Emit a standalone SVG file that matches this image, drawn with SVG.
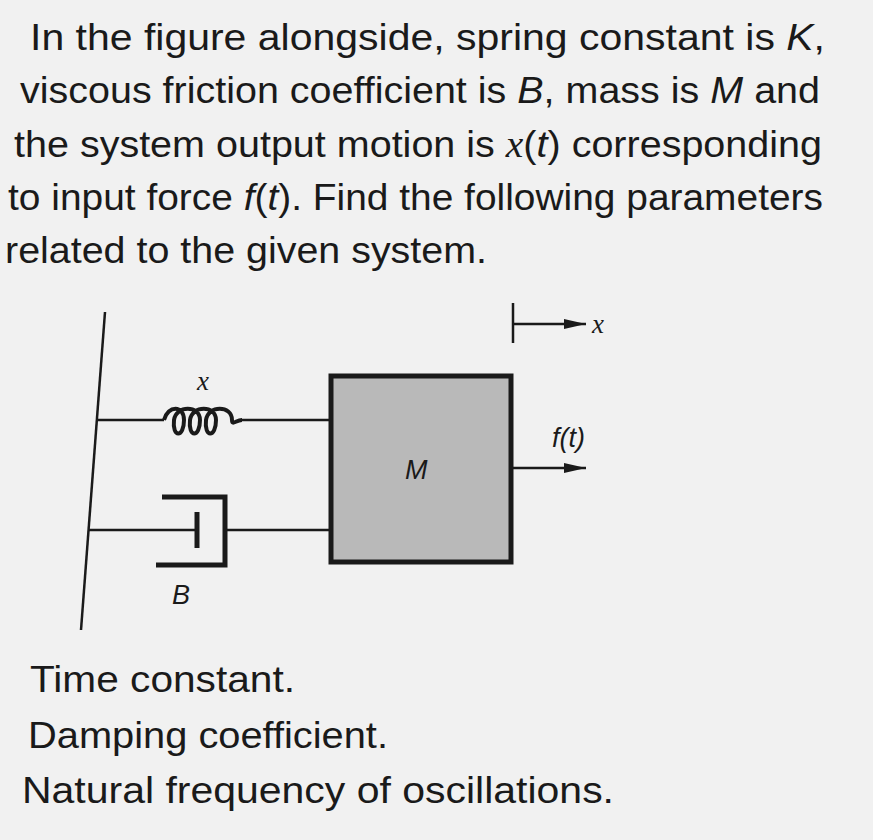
<svg xmlns="http://www.w3.org/2000/svg" width="873" height="840" viewBox="0 0 873 840">
<style>
.t{font-family:"Liberation Sans",Arial,sans-serif;font-size:37px;fill:#1a1a1a}
.l{font-family:"Liberation Sans",Arial,sans-serif;font-size:27px;fill:#1a1a1a}
.i{font-style:italic}
.s{font-family:"Liberation Serif",serif;font-style:italic}
.ln{stroke:#1a1a1a;stroke-width:2.5;fill:none}
.th{stroke:#1a1a1a;stroke-width:5;fill:none}
.coil{stroke:#1a1a1a;stroke-width:4;fill:none}
</style>
<defs>
<marker id="ah2" markerWidth="22" markerHeight="10" refX="22" refY="5" orient="auto" markerUnits="userSpaceOnUse"><path d="M0,0 L22,5 L0,10 Z" fill="#1a1a1a"/></marker></defs>
<rect width="873" height="840" fill="#f1f1f1"/>
<g id="question">
<text class="t" x="30" y="50" textLength="795" lengthAdjust="spacingAndGlyphs">In the figure alongside, spring constant is <tspan class="i">K</tspan>,</text>
<text class="t" x="20" y="103" textLength="800" lengthAdjust="spacingAndGlyphs">viscous friction coefficient is <tspan class="i">B</tspan>, mass is <tspan class="i">M</tspan> and</text>
<text class="t" x="14" y="157" textLength="808" lengthAdjust="spacingAndGlyphs">the system output motion is <tspan class="s">x</tspan>(<tspan class="i">t</tspan>) corresponding</text>
<text class="t" x="8" y="210" textLength="815" lengthAdjust="spacingAndGlyphs">to input force <tspan class="i">f</tspan>(<tspan class="i">t</tspan>). Find the following parameters</text>
<text class="t" x="5" y="263" textLength="482" lengthAdjust="spacingAndGlyphs">related to the given system.</text>
</g>
<g id="wall"><line class="ln" x1="105" y1="312" x2="81" y2="630"/></g>
<g id="spring">
<path class="ln" d="M97,420 H164"/>
<path class="coil" d="M164,420 C168,405 184,405 184,420 C184,438 172,438 174,420 C176,405 200,405 200,420 C200,438 188,438 190,420 C192,405 216,405 216,420 C216,438 204,438 206,420 C208,405 232,405 232,420 C232,426 236,420 242,420"/>
<path class="ln" d="M242,420 H331"/>
<text class="l s" x="197" y="390">x</text>
</g>
<g id="damper">
<path class="ln" d="M89,530 H197"/>
<line class="th" x1="197" y1="512" x2="197" y2="548"/>
<path class="th" d="M162,497 H225 V565 H156"/>
<path class="ln" d="M225,530 H331"/>
<text class="l i" x="172" y="604">B</text>
</g>
<g id="mass">
<rect x="331" y="376" width="180" height="186" fill="#b9b9b9" stroke="#1a1a1a" stroke-width="5"/>
<text class="l i" x="405" y="479">M</text>
</g>
<g id="connectors">
<line class="ln" x1="513" y1="468" x2="586" y2="468" marker-end="url(#ah2)"/>
<line class="ln" x1="513" y1="303" x2="513" y2="343"/>
<line class="ln" x1="513" y1="324" x2="586" y2="324" marker-end="url(#ah2)"/>
</g>
<text class="l i" x="552" y="447">f(t)</text>
<text class="l s" x="592" y="333">x</text>
<g id="items">
<text class="t" x="30" y="692" textLength="265" lengthAdjust="spacingAndGlyphs">Time constant.</text>
<text class="t" x="28" y="748" textLength="360" lengthAdjust="spacingAndGlyphs">Damping coefficient.</text>
<text class="t" x="22" y="803" textLength="592" lengthAdjust="spacingAndGlyphs">Natural frequency of oscillations.</text>
</g>
</svg>
